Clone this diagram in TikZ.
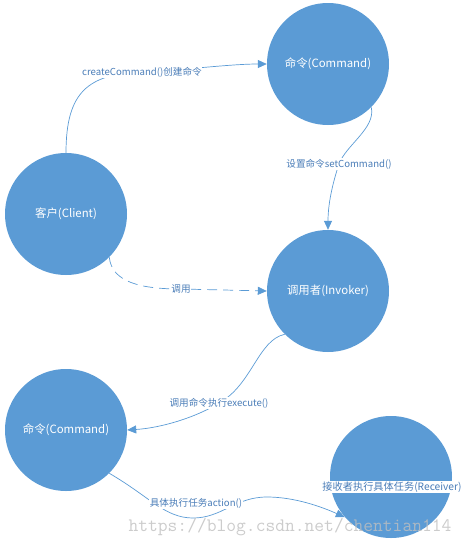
\documentclass[tikz,border=0pt]{standalone}
\usepackage{fontspec}
\setmainfont{Noto Sans CJK SC}
\usetikzlibrary{arrows.meta}
\definecolor{roleblue}{HTML}{5B9BD5}
\definecolor{tagblue}{HTML}{4A7DB8}

\begin{document}
\begin{tikzpicture}[x=1pt,y=-1pt,
    role/.style={circle,fill=roleblue,minimum size=122pt,inner sep=0pt,text=white,font=\fontsize{11.4}{13}\selectfont},
    link/.style={draw=roleblue,line width=0.7pt,-{Triangle[length=9pt,width=8pt]}},
    tag/.style={fill=white,text=tagblue,inner sep=0.6pt,font=\fontsize{9.6}{11}\selectfont}]
    \useasboundingbox (0,0) rectangle (467,547);

    % the five roles
    \node[role] (cmd) at (328,64) {命令(Command)};
    \node[role] (client) at (66,214) {客户(Client)};
    \node[role] (invoker) at (328,291) {调用者(Invoker)};
    \node[role] (cmdb) at (66,430) {命令(Command)};
    \node[role] (receiver) at (391,477) {};

    % calls between them
    \draw[link] (client.north) .. controls (66,92) and (88,74) .. (142,72) node[tag] {createCommand()创建命令} .. controls (185,70) and (230,64) .. (cmd.west);
    \draw[link] (cmd.-45) .. controls (376,128) and (346,145) .. (339,164) node[tag] {设置命令setCommand()} .. controls (332,185) and (328,205) .. (invoker.north);
    \draw[link,dash pattern=on 10pt off 6pt] (client.-45) .. controls (112,282) and (140,289) .. (181,289) node[tag] {调用} -- (invoker.west);
    \draw[link] (invoker.-135) .. controls (258,340) and (252,385) .. (219,403) node[tag] {调用命令执行execute()} .. controls (195,418) and (160,428) .. (cmdb.east);
    \draw[link] (cmdb.-45) .. controls (150,497) and (165,518) .. (193,518) .. controls (222,518) and (235,497) .. (267,497) .. controls (295,497) and (322,507) .. (receiver.-139);
    \node[tag] (actlbl) at (196,503) {具体执行任务action()};
    \node[tag,font=\fontsize{10.2}{12}\selectfont] (recvlbl) at (392,487) {接收者执行具体任务(Receiver)};

    % watermark
    \node[text=gray!50,opacity=0.8,font=\ttfamily\fontsize{19}{19}\selectfont] (mark) at (290,527) {https://blog.csdn.net/chentian114};
\end{tikzpicture}
\end{document}
